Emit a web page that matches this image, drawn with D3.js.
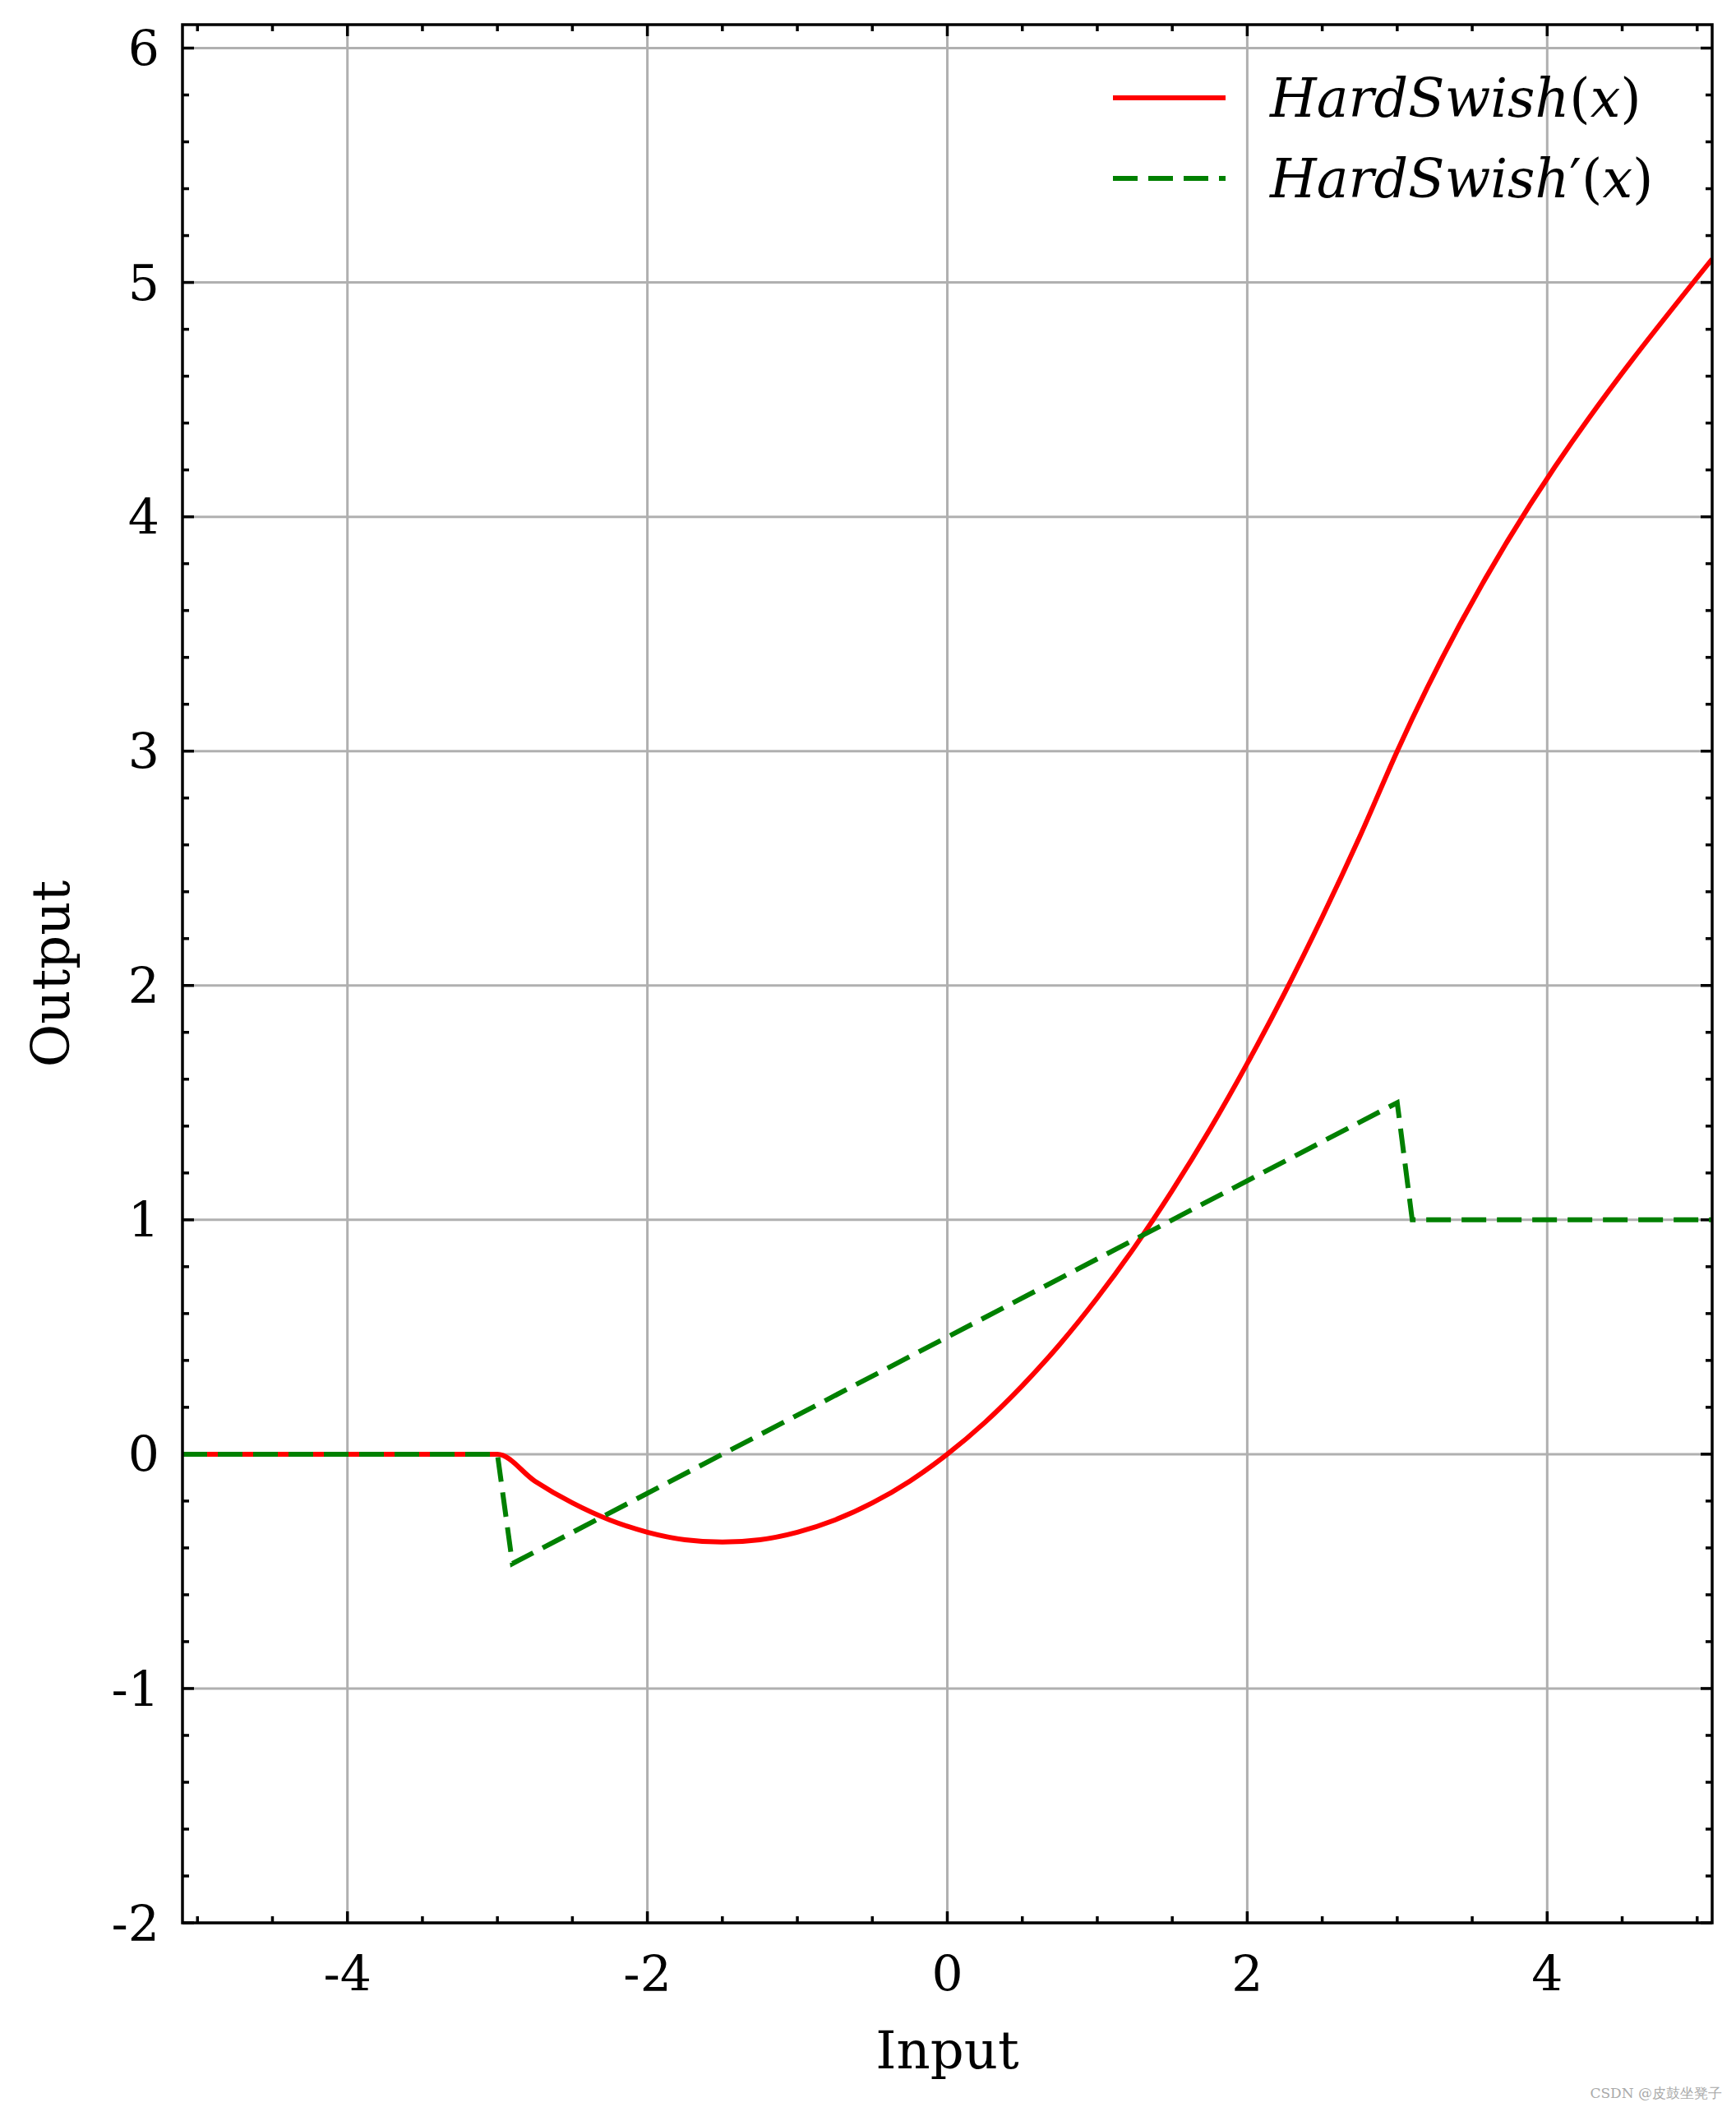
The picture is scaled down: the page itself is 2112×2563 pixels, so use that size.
<!DOCTYPE html>
<html>
<head>
<meta charset="utf-8">
<script src="https://cdn.jsdelivr.net/npm/d3@7"></script>
<style>
  body { margin: 0; background: #fff; }
  text { font-family: "DejaVu Serif", serif; }
</style>
</head>
<body>
<svg class="chart"></svg>
<script>
// values
const swishX = [-5.1, -3, -2.75, -2.5, -2.25, -2, -1.75, -1.5, -1.25, -1, -0.75, -0.5, -0.25,
                0, 0.25, 0.5, 0.75, 1, 1.25, 1.5, 1.75, 2, 2.25, 2.5, 2.75, 3, 5.1];
const swishY = [0, 0, -0.115, -0.208, -0.281, -0.333, -0.365, -0.375, -0.365, -0.333, -0.281, -0.208, -0.115,
                0, 0.135, 0.292, 0.469, 0.667, 0.885, 1.125, 1.385, 1.667, 1.969, 2.292, 2.635, 3, 5.1];
const gradX = [-5.1, -3, -2.9, 3, 3.1, 5.1];
const gradY = [0, 0, -0.467, 1.5, 1, 1];
const xTicks = [-4, -2, 0, 2, 4];
const yTicks = [-2, -1, 0, 1, 2, 3, 4, 5, 6];

const width = 2112, height = 2563;
const m = {left: 222, right: 2083, top: 30, bottom: 2339};

const svg = d3.select(".chart").attr("width", width).attr("height", height);

const x = d3.scaleLinear().domain([-5.1, 5.1]).range([m.left, m.right]);
const y = d3.scaleLinear().domain([-2, 6.1]).range([m.bottom, m.top]);

// grid
svg.append("g").selectAll("line").data(xTicks).enter().append("line")
    .attr("x1", d => x(d)).attr("x2", d => x(d)).attr("y1", m.top).attr("y2", m.bottom)
    .attr("stroke", "#b0b0b0").attr("stroke-width", 3);
svg.append("g").selectAll("line").data(yTicks).enter().append("line")
    .attr("x1", m.left).attr("x2", m.right).attr("y1", d => y(d)).attr("y2", d => y(d))
    .attr("stroke", "#b0b0b0").attr("stroke-width", 3);

// ticks, inward on all four sides
const xMinor = d3.range(-5, 5.01, 0.5).filter(v => !xTicks.includes(v));
const yMinor = d3.range(-2, 6.01, 0.2).map(v => +v.toFixed(1)).filter(v => !yTicks.includes(v));
const tg = svg.append("g");
[[xTicks, 14], [xMinor, 8]].forEach(([data, len]) => {
    data.forEach(d => {
        tg.append("line").attr("x1", x(d)).attr("x2", x(d)).attr("y1", m.bottom).attr("y2", m.bottom - len)
            .attr("stroke", "#000").attr("stroke-width", 3.5);
        tg.append("line").attr("x1", x(d)).attr("x2", x(d)).attr("y1", m.top).attr("y2", m.top + len)
            .attr("stroke", "#000").attr("stroke-width", 3.5);
    });
});
[[yTicks, 14], [yMinor, 8]].forEach(([data, len]) => {
    data.forEach(d => {
        tg.append("line").attr("y1", y(d)).attr("y2", y(d)).attr("x1", m.left).attr("x2", m.left + len)
            .attr("stroke", "#000").attr("stroke-width", 3.5);
        tg.append("line").attr("y1", y(d)).attr("y2", y(d)).attr("x1", m.right).attr("x2", m.right - len)
            .attr("stroke", "#000").attr("stroke-width", 3.5);
    });
});

// curves
const smooth = d3.line().x(d => x(d[0])).y(d => y(d[1])).curve(d3.curveMonotoneX);
const line = d3.line().x(d => x(d[0])).y(d => y(d[1]));
svg.append("clipPath").attr("id", "c").append("rect")
    .attr("x", m.left).attr("y", m.top).attr("width", m.right - m.left).attr("height", m.bottom - m.top);
svg.append("path").datum(d3.zip(swishX, swishY)).attr("d", smooth).attr("clip-path", "url(#c)")
    .attr("fill", "none").attr("stroke", "#ff0000").attr("stroke-width", 6);
svg.append("path").datum(d3.zip(gradX, gradY)).attr("d", line).attr("clip-path", "url(#c)")
    .attr("fill", "none").attr("stroke", "#008000").attr("stroke-width", 6)
    .attr("stroke-dasharray", "30 13");

// frame
svg.append("rect").attr("x", m.left).attr("y", m.top)
    .attr("width", m.right - m.left).attr("height", m.bottom - m.top)
    .attr("fill", "none").attr("stroke", "#000").attr("stroke-width", 3.5);

// tick labels
svg.append("g").selectAll("text").data(xTicks).enter().append("text")
    .attr("x", d => x(d)).attr("y", 2422).attr("text-anchor", "middle")
    .attr("font-size", 60).text(d => d);
svg.append("g").selectAll("text").data(yTicks).enter().append("text")
    .attr("x", 194).attr("y", d => y(d)).attr("dy", "0.36em").attr("text-anchor", "end")
    .attr("font-size", 60).text(d => d);

// axis labels
svg.append("text").attr("x", (m.left + m.right) / 2).attr("y", 2516).attr("text-anchor", "middle")
    .attr("font-size", 64).text("Input");
svg.append("text").attr("transform", `translate(84, ${(m.top + m.bottom) / 2}) rotate(-90)`)
    .attr("text-anchor", "middle").attr("font-size", 64).text("Output");

// legend
const legend = [
    {label: "HardSwish", prime: false, color: "#ff0000", dash: null, y: 119},
    {label: "HardSwish", prime: true, color: "#008000", dash: "30 13", y: 217}
];
legend.forEach(d => {
    svg.append("line").attr("x1", 1354).attr("x2", 1491).attr("y1", d.y).attr("y2", d.y)
        .attr("stroke", d.color).attr("stroke-width", 6).attr("stroke-dasharray", d.dash);
    const t = svg.append("text").attr("x", 1545).attr("y", d.y).attr("dy", "0.36em")
        .attr("font-size", 65).attr("font-style", "italic");
    t.append("tspan").text(d.label);
    if (d.prime) t.append("tspan").attr("font-style", "normal").text("′");
    t.append("tspan").attr("font-style", "normal").text("(");
    t.append("tspan").text("x");
    t.append("tspan").attr("font-style", "normal").text(")");
});

// watermark
svg.append("text").attr("x", 2095).attr("y", 2552).attr("text-anchor", "end")
    .attr("font-family", "'Noto Sans CJK SC', sans-serif").attr("font-size", 17).attr("fill", "#aaa")
    .text("CSDN @皮鼓坐凳子");
</script>
</body>
</html>
